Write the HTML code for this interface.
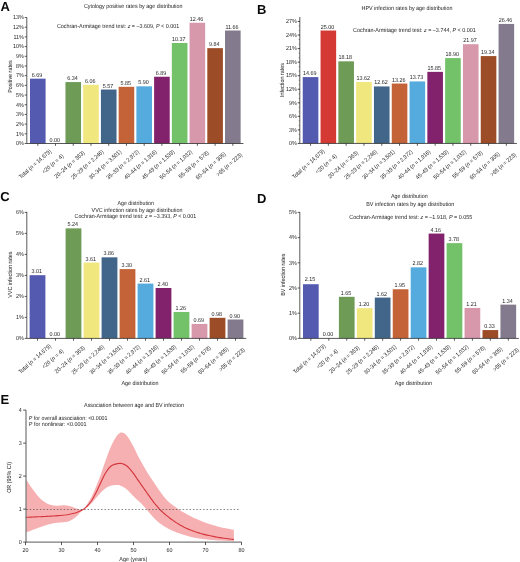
<!DOCTYPE html>
<html lang="en"><head><meta charset="utf-8"><title>Figure</title>
<style>
html,body{margin:0;padding:0;background:#fff}
svg{display:block}
text{text-rendering:geometricPrecision;font-family:"Liberation Sans",sans-serif;font-size:5.9px;fill:#1c1c1c}
.i{font-style:italic}
.pl{font-size:13px;font-weight:bold;fill:#0a0a0a}
.ax{stroke:#2e2e2e;stroke-width:0.8;fill:none}
</style></head><body>
<svg width="520" height="562" viewBox="0 0 520 562">
<rect width="520" height="562" fill="#fff"/>
<text x="0.6" y="11.4" class="pl">A</text>
<rect x="30.00" y="78.67" width="15.6" height="64.83" fill="#545ab0"/>
<text transform="translate(37.00 76.67) scale(0.915 1)" text-anchor="middle">6.69</text>
<text transform="translate(54.73 142.30) scale(0.915 1)" text-anchor="middle">0.00</text>
<rect x="65.46" y="82.07" width="15.6" height="61.43" fill="#6e9c57"/>
<text transform="translate(72.46 80.07) scale(0.915 1)" text-anchor="middle">6.34</text>
<rect x="83.19" y="84.78" width="15.6" height="58.72" fill="#f0e77e"/>
<text transform="translate(90.19 82.78) scale(0.915 1)" text-anchor="middle">6.06</text>
<rect x="100.92" y="89.53" width="15.6" height="53.97" fill="#41668a"/>
<text transform="translate(107.92 87.53) scale(0.915 1)" text-anchor="middle">5.57</text>
<rect x="118.65" y="86.81" width="15.6" height="56.69" fill="#c36337"/>
<text transform="translate(125.65 84.81) scale(0.915 1)" text-anchor="middle">5.85</text>
<rect x="136.38" y="86.33" width="15.6" height="57.17" fill="#55abdd"/>
<text transform="translate(143.38 84.33) scale(0.915 1)" text-anchor="middle">5.90</text>
<rect x="154.11" y="76.74" width="15.6" height="66.76" fill="#82226c"/>
<text transform="translate(161.11 74.74) scale(0.915 1)" text-anchor="middle">6.89</text>
<rect x="171.84" y="43.01" width="15.6" height="100.49" fill="#73c169"/>
<text transform="translate(178.84 41.01) scale(0.915 1)" text-anchor="middle">10.37</text>
<rect x="189.57" y="22.76" width="15.6" height="120.74" fill="#d898ab"/>
<text transform="translate(196.57 20.76) scale(0.915 1)" text-anchor="middle">12.46</text>
<rect x="207.30" y="48.15" width="15.6" height="95.35" fill="#9c4c26"/>
<text transform="translate(214.30 46.15) scale(0.915 1)" text-anchor="middle">9.84</text>
<rect x="225.03" y="30.51" width="15.6" height="112.99" fill="#837b8d"/>
<text transform="translate(232.03 28.51) scale(0.915 1)" text-anchor="middle">11.66</text>
<path d="M26.8 17.4V143.5H243.43" class="ax"/>
<path d="M24.70 143.50H26.8" class="ax"/>
<text transform="translate(23.90 145.30) scale(0.915 1)" text-anchor="end">0%</text>
<path d="M24.70 133.81H26.8" class="ax"/>
<text transform="translate(23.90 135.61) scale(0.915 1)" text-anchor="end">1%</text>
<path d="M24.70 124.12H26.8" class="ax"/>
<text transform="translate(23.90 125.92) scale(0.915 1)" text-anchor="end">2%</text>
<path d="M24.70 114.43H26.8" class="ax"/>
<text transform="translate(23.90 116.23) scale(0.915 1)" text-anchor="end">3%</text>
<path d="M24.70 104.74H26.8" class="ax"/>
<text transform="translate(23.90 106.54) scale(0.915 1)" text-anchor="end">4%</text>
<path d="M24.70 95.05H26.8" class="ax"/>
<text transform="translate(23.90 96.85) scale(0.915 1)" text-anchor="end">5%</text>
<path d="M24.70 85.36H26.8" class="ax"/>
<text transform="translate(23.90 87.16) scale(0.915 1)" text-anchor="end">6%</text>
<path d="M24.70 75.67H26.8" class="ax"/>
<text transform="translate(23.90 77.47) scale(0.915 1)" text-anchor="end">7%</text>
<path d="M24.70 65.98H26.8" class="ax"/>
<text transform="translate(23.90 67.78) scale(0.915 1)" text-anchor="end">8%</text>
<path d="M24.70 56.29H26.8" class="ax"/>
<text transform="translate(23.90 58.09) scale(0.915 1)" text-anchor="end">9%</text>
<path d="M24.70 46.60H26.8" class="ax"/>
<text transform="translate(23.90 48.40) scale(0.915 1)" text-anchor="end">10%</text>
<path d="M24.70 36.91H26.8" class="ax"/>
<text transform="translate(23.90 38.71) scale(0.915 1)" text-anchor="end">11%</text>
<path d="M24.70 27.22H26.8" class="ax"/>
<text transform="translate(23.90 29.02) scale(0.915 1)" text-anchor="end">12%</text>
<path d="M24.70 17.53H26.8" class="ax"/>
<text transform="translate(23.90 19.33) scale(0.915 1)" text-anchor="end">13%</text>
<path d="M37.80 143.5v2.3" class="ax"/>
<text transform="translate(35.00 163.80) rotate(-41.5) scale(0.8921 1)" text-anchor="middle" y="2.1">Total (<tspan class="i">n</tspan> = 14,679)</text>
<path d="M55.53 143.5v2.3" class="ax"/>
<text transform="translate(52.73 163.80) rotate(-41.5) scale(0.9150 1)" text-anchor="middle" y="2.1">&lt;20 (<tspan class="i">n</tspan> = 4)</text>
<path d="M73.26 143.5v2.3" class="ax"/>
<text transform="translate(69.46 164.50) rotate(-41.5) scale(0.9150 1)" text-anchor="middle" y="2.1">20–24 (<tspan class="i">n</tspan> = 363)</text>
<path d="M90.99 143.5v2.3" class="ax"/>
<text transform="translate(87.19 164.50) rotate(-41.5) scale(0.8830 1)" text-anchor="middle" y="2.1">25–29 (<tspan class="i">n</tspan> = 2,246)</text>
<path d="M108.72 143.5v2.3" class="ax"/>
<text transform="translate(104.92 164.50) rotate(-41.5) scale(0.8830 1)" text-anchor="middle" y="2.1">30–34 (<tspan class="i">n</tspan> = 3,501)</text>
<path d="M126.45 143.5v2.3" class="ax"/>
<text transform="translate(122.65 164.50) rotate(-41.5) scale(0.8830 1)" text-anchor="middle" y="2.1">35–39 (<tspan class="i">n</tspan> = 2,972)</text>
<path d="M144.18 143.5v2.3" class="ax"/>
<text transform="translate(140.38 164.50) rotate(-41.5) scale(0.8830 1)" text-anchor="middle" y="2.1">40–44 (<tspan class="i">n</tspan> = 1,916)</text>
<path d="M161.91 143.5v2.3" class="ax"/>
<text transform="translate(158.11 164.50) rotate(-41.5) scale(0.8830 1)" text-anchor="middle" y="2.1">45–49 (<tspan class="i">n</tspan> = 1,539)</text>
<path d="M179.64 143.5v2.3" class="ax"/>
<text transform="translate(175.84 164.50) rotate(-41.5) scale(0.8830 1)" text-anchor="middle" y="2.1">50–54 (<tspan class="i">n</tspan> = 1,032)</text>
<path d="M197.37 143.5v2.3" class="ax"/>
<text transform="translate(193.57 164.50) rotate(-41.5) scale(0.9150 1)" text-anchor="middle" y="2.1">55–59 (<tspan class="i">n</tspan> = 578)</text>
<path d="M215.10 143.5v2.3" class="ax"/>
<text transform="translate(210.70 165.70) rotate(-41.5) scale(0.9150 1)" text-anchor="middle" y="2.1">60–64 (<tspan class="i">n</tspan> = 305)</text>
<path d="M232.83 143.5v2.3" class="ax"/>
<text transform="translate(229.03 164.50) rotate(-41.5) scale(0.9150 1)" text-anchor="middle" y="2.1">&gt;65 (<tspan class="i">n</tspan> = 223)</text>
<text transform="translate(10.0 76.6) rotate(-90) scale(0.915 1)" text-anchor="middle" y="2.1">Positive rates</text>
<text transform="translate(133.20 7.50) scale(0.915 1)" text-anchor="middle" textLength="107.65" lengthAdjust="spacingAndGlyphs">Cytology positive rates by age distribution</text>
<text transform="translate(118.10 28.40) scale(0.915 1)" text-anchor="middle" textLength="133.66" lengthAdjust="spacingAndGlyphs">Cochran-Armitage trend test: <tspan class="i">z</tspan> = –3.609, <tspan class="i">P</tspan> &lt; 0.001</text>
<text x="256.9" y="13.85" class="pl">B</text>
<rect x="302.75" y="77.10" width="15.6" height="66.35" fill="#545ab0"/>
<text transform="translate(309.75 75.10) scale(0.915 1)" text-anchor="middle">14.69</text>
<rect x="320.55" y="30.52" width="15.6" height="112.93" fill="#d43a33"/>
<text transform="translate(327.55 28.52) scale(0.915 1)" text-anchor="middle">25.00</text>
<rect x="338.35" y="61.33" width="15.6" height="82.12" fill="#6e9c57"/>
<text transform="translate(345.35 59.33) scale(0.915 1)" text-anchor="middle">18.18</text>
<rect x="356.15" y="81.93" width="15.6" height="61.52" fill="#f0e77e"/>
<text transform="translate(363.15 79.93) scale(0.915 1)" text-anchor="middle">13.62</text>
<rect x="373.95" y="86.45" width="15.6" height="57.00" fill="#41668a"/>
<text transform="translate(380.95 84.45) scale(0.915 1)" text-anchor="middle">12.62</text>
<rect x="391.75" y="83.55" width="15.6" height="59.90" fill="#c36337"/>
<text transform="translate(398.75 81.55) scale(0.915 1)" text-anchor="middle">13.26</text>
<rect x="409.55" y="81.43" width="15.6" height="62.02" fill="#55abdd"/>
<text transform="translate(416.55 79.43) scale(0.915 1)" text-anchor="middle">13.73</text>
<rect x="427.35" y="71.86" width="15.6" height="71.59" fill="#82226c"/>
<text transform="translate(434.35 69.86) scale(0.915 1)" text-anchor="middle">15.85</text>
<rect x="445.15" y="58.08" width="15.6" height="85.37" fill="#73c169"/>
<text transform="translate(452.15 56.08) scale(0.915 1)" text-anchor="middle">18.90</text>
<rect x="462.95" y="44.21" width="15.6" height="99.24" fill="#d898ab"/>
<text transform="translate(469.95 42.21) scale(0.915 1)" text-anchor="middle">21.97</text>
<rect x="480.75" y="56.09" width="15.6" height="87.36" fill="#9c4c26"/>
<text transform="translate(487.75 54.09) scale(0.915 1)" text-anchor="middle">19.34</text>
<rect x="498.55" y="23.93" width="15.6" height="119.52" fill="#837b8d"/>
<text transform="translate(505.55 21.93) scale(0.915 1)" text-anchor="middle">26.46</text>
<path d="M299.8 17.0V143.45H516.95" class="ax"/>
<path d="M297.70 143.45H299.8" class="ax"/>
<text transform="translate(296.90 145.25) scale(0.915 1)" text-anchor="end">0%</text>
<path d="M297.70 129.90H299.8" class="ax"/>
<text transform="translate(296.90 131.70) scale(0.915 1)" text-anchor="end">3%</text>
<path d="M297.70 116.35H299.8" class="ax"/>
<text transform="translate(296.90 118.15) scale(0.915 1)" text-anchor="end">6%</text>
<path d="M297.70 102.80H299.8" class="ax"/>
<text transform="translate(296.90 104.60) scale(0.915 1)" text-anchor="end">9%</text>
<path d="M297.70 89.25H299.8" class="ax"/>
<text transform="translate(296.90 91.05) scale(0.915 1)" text-anchor="end">12%</text>
<path d="M297.70 75.69H299.8" class="ax"/>
<text transform="translate(296.90 77.49) scale(0.915 1)" text-anchor="end">15%</text>
<path d="M297.70 62.14H299.8" class="ax"/>
<text transform="translate(296.90 63.94) scale(0.915 1)" text-anchor="end">18%</text>
<path d="M297.70 48.59H299.8" class="ax"/>
<text transform="translate(296.90 50.39) scale(0.915 1)" text-anchor="end">21%</text>
<path d="M297.70 35.04H299.8" class="ax"/>
<text transform="translate(296.90 36.84) scale(0.915 1)" text-anchor="end">24%</text>
<path d="M297.70 21.49H299.8" class="ax"/>
<text transform="translate(296.90 23.29) scale(0.915 1)" text-anchor="end">27%</text>
<path d="M298.70 143.45H299.8" class="ax" style="stroke-width:0.5"/>
<path d="M298.70 138.93H299.8" class="ax" style="stroke-width:0.5"/>
<path d="M298.70 134.42H299.8" class="ax" style="stroke-width:0.5"/>
<path d="M298.70 129.90H299.8" class="ax" style="stroke-width:0.5"/>
<path d="M298.70 125.38H299.8" class="ax" style="stroke-width:0.5"/>
<path d="M298.70 120.86H299.8" class="ax" style="stroke-width:0.5"/>
<path d="M298.70 116.35H299.8" class="ax" style="stroke-width:0.5"/>
<path d="M298.70 111.83H299.8" class="ax" style="stroke-width:0.5"/>
<path d="M298.70 107.31H299.8" class="ax" style="stroke-width:0.5"/>
<path d="M298.70 102.80H299.8" class="ax" style="stroke-width:0.5"/>
<path d="M298.70 98.28H299.8" class="ax" style="stroke-width:0.5"/>
<path d="M298.70 93.76H299.8" class="ax" style="stroke-width:0.5"/>
<path d="M298.70 89.25H299.8" class="ax" style="stroke-width:0.5"/>
<path d="M298.70 84.73H299.8" class="ax" style="stroke-width:0.5"/>
<path d="M298.70 80.21H299.8" class="ax" style="stroke-width:0.5"/>
<path d="M298.70 75.69H299.8" class="ax" style="stroke-width:0.5"/>
<path d="M298.70 71.18H299.8" class="ax" style="stroke-width:0.5"/>
<path d="M298.70 66.66H299.8" class="ax" style="stroke-width:0.5"/>
<path d="M298.70 62.14H299.8" class="ax" style="stroke-width:0.5"/>
<path d="M298.70 57.63H299.8" class="ax" style="stroke-width:0.5"/>
<path d="M298.70 53.11H299.8" class="ax" style="stroke-width:0.5"/>
<path d="M298.70 48.59H299.8" class="ax" style="stroke-width:0.5"/>
<path d="M298.70 44.08H299.8" class="ax" style="stroke-width:0.5"/>
<path d="M298.70 39.56H299.8" class="ax" style="stroke-width:0.5"/>
<path d="M298.70 35.04H299.8" class="ax" style="stroke-width:0.5"/>
<path d="M298.70 30.52H299.8" class="ax" style="stroke-width:0.5"/>
<path d="M298.70 26.01H299.8" class="ax" style="stroke-width:0.5"/>
<path d="M298.70 21.49H299.8" class="ax" style="stroke-width:0.5"/>
<path d="M310.55 143.45v2.3" class="ax"/>
<text transform="translate(308.25 163.75) rotate(-41.5) scale(0.8921 1)" text-anchor="middle" y="2.1">Total (<tspan class="i">n</tspan> = 14,679)</text>
<path d="M328.35 143.45v2.3" class="ax"/>
<text transform="translate(326.05 163.75) rotate(-41.5) scale(0.9150 1)" text-anchor="middle" y="2.1">&lt;20 (<tspan class="i">n</tspan> = 4)</text>
<path d="M346.15 143.45v2.3" class="ax"/>
<text transform="translate(342.85 164.45) rotate(-41.5) scale(0.9150 1)" text-anchor="middle" y="2.1">20–24 (<tspan class="i">n</tspan> = 363)</text>
<path d="M363.95 143.45v2.3" class="ax"/>
<text transform="translate(360.65 164.45) rotate(-41.5) scale(0.8830 1)" text-anchor="middle" y="2.1">25–29 (<tspan class="i">n</tspan> = 2,246)</text>
<path d="M381.75 143.45v2.3" class="ax"/>
<text transform="translate(378.45 164.45) rotate(-41.5) scale(0.8830 1)" text-anchor="middle" y="2.1">30–34 (<tspan class="i">n</tspan> = 3,501)</text>
<path d="M399.55 143.45v2.3" class="ax"/>
<text transform="translate(396.25 164.45) rotate(-41.5) scale(0.8830 1)" text-anchor="middle" y="2.1">35–39 (<tspan class="i">n</tspan> = 2,972)</text>
<path d="M417.35 143.45v2.3" class="ax"/>
<text transform="translate(414.05 164.45) rotate(-41.5) scale(0.8830 1)" text-anchor="middle" y="2.1">40–44 (<tspan class="i">n</tspan> = 1,916)</text>
<path d="M435.15 143.45v2.3" class="ax"/>
<text transform="translate(431.85 164.45) rotate(-41.5) scale(0.8830 1)" text-anchor="middle" y="2.1">45–49 (<tspan class="i">n</tspan> = 1,539)</text>
<path d="M452.95 143.45v2.3" class="ax"/>
<text transform="translate(449.65 164.45) rotate(-41.5) scale(0.8830 1)" text-anchor="middle" y="2.1">50–54 (<tspan class="i">n</tspan> = 1,032)</text>
<path d="M470.75 143.45v2.3" class="ax"/>
<text transform="translate(467.45 164.45) rotate(-41.5) scale(0.9150 1)" text-anchor="middle" y="2.1">55–59 (<tspan class="i">n</tspan> = 578)</text>
<path d="M488.55 143.45v2.3" class="ax"/>
<text transform="translate(484.65 165.65) rotate(-41.5) scale(0.9150 1)" text-anchor="middle" y="2.1">60–64 (<tspan class="i">n</tspan> = 305)</text>
<path d="M506.35 143.45v2.3" class="ax"/>
<text transform="translate(503.05 164.45) rotate(-41.5) scale(0.9150 1)" text-anchor="middle" y="2.1">&gt;65 (<tspan class="i">n</tspan> = 223)</text>
<text transform="translate(281.7 80) rotate(-90) scale(0.915 1)" text-anchor="middle" y="2.1">Infection rates</text>
<text transform="translate(407.00 9.90) scale(0.915 1)" text-anchor="middle" textLength="99.45" lengthAdjust="spacingAndGlyphs">HPV infection rates by age distribution</text>
<text transform="translate(414.40 32.10) scale(0.915 1)" text-anchor="middle" textLength="134.10" lengthAdjust="spacingAndGlyphs">Cochran-Armitage trend test: <tspan class="i">z</tspan> = –3.744, <tspan class="i">P</tspan> &lt; 0.001</text>
<text x="0.3" y="200.7" class="pl">C</text>
<rect x="29.60" y="275.19" width="15.8" height="63.21" fill="#545ab0"/>
<text transform="translate(36.70 273.19) scale(0.915 1)" text-anchor="middle">3.01</text>
<text transform="translate(54.70 336.40) scale(0.915 1)" text-anchor="middle">0.00</text>
<rect x="65.60" y="228.36" width="15.8" height="110.04" fill="#6e9c57"/>
<text transform="translate(72.70 226.36) scale(0.915 1)" text-anchor="middle">5.24</text>
<rect x="83.60" y="262.59" width="15.8" height="75.81" fill="#f0e77e"/>
<text transform="translate(90.70 260.59) scale(0.915 1)" text-anchor="middle">3.61</text>
<rect x="101.60" y="257.34" width="15.8" height="81.06" fill="#41668a"/>
<text transform="translate(108.70 255.34) scale(0.915 1)" text-anchor="middle">3.86</text>
<rect x="119.60" y="269.10" width="15.8" height="69.30" fill="#c36337"/>
<text transform="translate(126.70 267.10) scale(0.915 1)" text-anchor="middle">3.30</text>
<rect x="137.60" y="283.59" width="15.8" height="54.81" fill="#55abdd"/>
<text transform="translate(144.70 281.59) scale(0.915 1)" text-anchor="middle">2.61</text>
<rect x="155.60" y="288.00" width="15.8" height="50.40" fill="#82226c"/>
<text transform="translate(162.70 286.00) scale(0.915 1)" text-anchor="middle">2.40</text>
<rect x="173.60" y="311.94" width="15.8" height="26.46" fill="#73c169"/>
<text transform="translate(180.70 309.94) scale(0.915 1)" text-anchor="middle">1.26</text>
<rect x="191.60" y="323.91" width="15.8" height="14.49" fill="#d898ab"/>
<text transform="translate(198.70 321.91) scale(0.915 1)" text-anchor="middle">0.69</text>
<rect x="209.60" y="317.82" width="15.8" height="20.58" fill="#9c4c26"/>
<text transform="translate(216.70 315.82) scale(0.915 1)" text-anchor="middle">0.98</text>
<rect x="227.60" y="319.50" width="15.8" height="18.90" fill="#837b8d"/>
<text transform="translate(234.70 317.50) scale(0.915 1)" text-anchor="middle">0.90</text>
<path d="M26.8 211.8V338.4H246.20" class="ax"/>
<path d="M24.70 338.40H26.8" class="ax"/>
<text transform="translate(23.90 340.20) scale(0.915 1)" text-anchor="end">0%</text>
<path d="M24.70 317.40H26.8" class="ax"/>
<text transform="translate(23.90 319.20) scale(0.915 1)" text-anchor="end">1%</text>
<path d="M24.70 296.40H26.8" class="ax"/>
<text transform="translate(23.90 298.20) scale(0.915 1)" text-anchor="end">2%</text>
<path d="M24.70 275.40H26.8" class="ax"/>
<text transform="translate(23.90 277.20) scale(0.915 1)" text-anchor="end">3%</text>
<path d="M24.70 254.40H26.8" class="ax"/>
<text transform="translate(23.90 256.20) scale(0.915 1)" text-anchor="end">4%</text>
<path d="M24.70 233.40H26.8" class="ax"/>
<text transform="translate(23.90 235.20) scale(0.915 1)" text-anchor="end">5%</text>
<path d="M24.70 212.40H26.8" class="ax"/>
<text transform="translate(23.90 214.20) scale(0.915 1)" text-anchor="end">6%</text>
<path d="M37.50 338.4v2.3" class="ax"/>
<text transform="translate(34.70 358.70) rotate(-41.5) scale(0.8921 1)" text-anchor="middle" y="2.1">Total (<tspan class="i">n</tspan> = 14,679)</text>
<path d="M55.50 338.4v2.3" class="ax"/>
<text transform="translate(52.70 358.70) rotate(-41.5) scale(0.9150 1)" text-anchor="middle" y="2.1">&lt;20 (<tspan class="i">n</tspan> = 4)</text>
<path d="M73.50 338.4v2.3" class="ax"/>
<text transform="translate(69.70 359.40) rotate(-41.5) scale(0.9150 1)" text-anchor="middle" y="2.1">20–24 (<tspan class="i">n</tspan> = 363)</text>
<path d="M91.50 338.4v2.3" class="ax"/>
<text transform="translate(87.70 359.40) rotate(-41.5) scale(0.8830 1)" text-anchor="middle" y="2.1">25–29 (<tspan class="i">n</tspan> = 2,246)</text>
<path d="M109.50 338.4v2.3" class="ax"/>
<text transform="translate(105.70 359.40) rotate(-41.5) scale(0.8830 1)" text-anchor="middle" y="2.1">30–34 (<tspan class="i">n</tspan> = 3,501)</text>
<path d="M127.50 338.4v2.3" class="ax"/>
<text transform="translate(123.70 359.40) rotate(-41.5) scale(0.8830 1)" text-anchor="middle" y="2.1">35–39 (<tspan class="i">n</tspan> = 2,972)</text>
<path d="M145.50 338.4v2.3" class="ax"/>
<text transform="translate(141.70 359.40) rotate(-41.5) scale(0.8830 1)" text-anchor="middle" y="2.1">40–44 (<tspan class="i">n</tspan> = 1,916)</text>
<path d="M163.50 338.4v2.3" class="ax"/>
<text transform="translate(159.70 359.40) rotate(-41.5) scale(0.8830 1)" text-anchor="middle" y="2.1">45–49 (<tspan class="i">n</tspan> = 1,539)</text>
<path d="M181.50 338.4v2.3" class="ax"/>
<text transform="translate(177.70 359.40) rotate(-41.5) scale(0.8830 1)" text-anchor="middle" y="2.1">50–54 (<tspan class="i">n</tspan> = 1,032)</text>
<path d="M199.50 338.4v2.3" class="ax"/>
<text transform="translate(195.70 359.40) rotate(-41.5) scale(0.9150 1)" text-anchor="middle" y="2.1">55–59 (<tspan class="i">n</tspan> = 578)</text>
<path d="M217.50 338.4v2.3" class="ax"/>
<text transform="translate(213.10 360.60) rotate(-41.5) scale(0.9150 1)" text-anchor="middle" y="2.1">60–64 (<tspan class="i">n</tspan> = 305)</text>
<path d="M235.50 338.4v2.3" class="ax"/>
<text transform="translate(231.70 359.40) rotate(-41.5) scale(0.9150 1)" text-anchor="middle" y="2.1">&gt;65 (<tspan class="i">n</tspan> = 223)</text>
<text transform="translate(9.9 274.7) rotate(-90) scale(0.915 1)" text-anchor="middle" y="2.1">VVC infection rates</text>
<text transform="translate(135.70 204.60) scale(0.915 1)" text-anchor="middle" textLength="39.89" lengthAdjust="spacingAndGlyphs">Age distribution</text>
<text transform="translate(137.00 211.90) scale(0.915 1)" text-anchor="middle" textLength="99.23" lengthAdjust="spacingAndGlyphs">VVC infection rates by age distribution</text>
<text transform="translate(135.40 218.10) scale(0.915 1)" text-anchor="middle" textLength="133.11" lengthAdjust="spacingAndGlyphs">Cochran-Armitage trend test: <tspan class="i">z</tspan> = –3.393, <tspan class="i">P</tspan> &lt; 0.001</text>
<text transform="translate(140.00 385.30) scale(0.915 1)" text-anchor="middle">Age distribution</text>
<text x="256.9" y="203.4" class="pl">D</text>
<rect x="303.00" y="284.22" width="15.7" height="54.18" fill="#545ab0"/>
<text transform="translate(310.05 280.72) scale(0.915 1)" text-anchor="middle">2.15</text>
<text transform="translate(328.00 336.40) scale(0.915 1)" text-anchor="middle">0.00</text>
<rect x="338.90" y="296.82" width="15.7" height="41.58" fill="#6e9c57"/>
<text transform="translate(345.95 294.82) scale(0.915 1)" text-anchor="middle">1.65</text>
<rect x="356.85" y="308.16" width="15.7" height="30.24" fill="#f0e77e"/>
<text transform="translate(363.90 306.16) scale(0.915 1)" text-anchor="middle">1.20</text>
<rect x="374.80" y="297.58" width="15.7" height="40.82" fill="#41668a"/>
<text transform="translate(381.85 295.58) scale(0.915 1)" text-anchor="middle">1.62</text>
<rect x="392.75" y="289.26" width="15.7" height="49.14" fill="#c36337"/>
<text transform="translate(399.80 287.26) scale(0.915 1)" text-anchor="middle">1.95</text>
<rect x="410.70" y="267.34" width="15.7" height="71.06" fill="#55abdd"/>
<text transform="translate(417.75 265.34) scale(0.915 1)" text-anchor="middle">2.82</text>
<rect x="428.65" y="233.57" width="15.7" height="104.83" fill="#82226c"/>
<text transform="translate(435.70 231.57) scale(0.915 1)" text-anchor="middle">4.16</text>
<rect x="446.60" y="243.14" width="15.7" height="95.26" fill="#73c169"/>
<text transform="translate(453.65 241.14) scale(0.915 1)" text-anchor="middle">3.78</text>
<rect x="464.55" y="307.91" width="15.7" height="30.49" fill="#d898ab"/>
<text transform="translate(471.60 305.91) scale(0.915 1)" text-anchor="middle">1.21</text>
<rect x="482.50" y="330.08" width="15.7" height="8.32" fill="#9c4c26"/>
<text transform="translate(489.55 328.08) scale(0.915 1)" text-anchor="middle">0.33</text>
<rect x="500.45" y="304.63" width="15.7" height="33.77" fill="#837b8d"/>
<text transform="translate(507.50 302.63) scale(0.915 1)" text-anchor="middle">1.34</text>
<path d="M299.8 212.0V338.4H518.95" class="ax"/>
<path d="M297.70 338.40H299.8" class="ax"/>
<text transform="translate(296.90 340.20) scale(0.915 1)" text-anchor="end">0%</text>
<path d="M297.70 313.20H299.8" class="ax"/>
<text transform="translate(296.90 315.00) scale(0.915 1)" text-anchor="end">1%</text>
<path d="M297.70 288.00H299.8" class="ax"/>
<text transform="translate(296.90 289.80) scale(0.915 1)" text-anchor="end">2%</text>
<path d="M297.70 262.80H299.8" class="ax"/>
<text transform="translate(296.90 264.60) scale(0.915 1)" text-anchor="end">3%</text>
<path d="M297.70 237.60H299.8" class="ax"/>
<text transform="translate(296.90 239.40) scale(0.915 1)" text-anchor="end">4%</text>
<path d="M297.70 212.40H299.8" class="ax"/>
<text transform="translate(296.90 214.20) scale(0.915 1)" text-anchor="end">5%</text>
<path d="M310.85 338.4v2.3" class="ax"/>
<text transform="translate(309.25 358.70) rotate(-41.5) scale(0.8921 1)" text-anchor="middle" y="2.1">Total (<tspan class="i">n</tspan> = 14,679)</text>
<path d="M328.80 338.4v2.3" class="ax"/>
<text transform="translate(327.20 358.70) rotate(-41.5) scale(0.9150 1)" text-anchor="middle" y="2.1">&lt;20 (<tspan class="i">n</tspan> = 4)</text>
<path d="M346.75 338.4v2.3" class="ax"/>
<text transform="translate(344.15 359.40) rotate(-41.5) scale(0.9150 1)" text-anchor="middle" y="2.1">20–24 (<tspan class="i">n</tspan> = 363)</text>
<path d="M364.70 338.4v2.3" class="ax"/>
<text transform="translate(362.10 359.40) rotate(-41.5) scale(0.8830 1)" text-anchor="middle" y="2.1">25–29 (<tspan class="i">n</tspan> = 2,246)</text>
<path d="M382.65 338.4v2.3" class="ax"/>
<text transform="translate(380.05 359.40) rotate(-41.5) scale(0.8830 1)" text-anchor="middle" y="2.1">30–34 (<tspan class="i">n</tspan> = 3,501)</text>
<path d="M400.60 338.4v2.3" class="ax"/>
<text transform="translate(398.00 359.40) rotate(-41.5) scale(0.8830 1)" text-anchor="middle" y="2.1">35–39 (<tspan class="i">n</tspan> = 2,972)</text>
<path d="M418.55 338.4v2.3" class="ax"/>
<text transform="translate(415.95 359.40) rotate(-41.5) scale(0.8830 1)" text-anchor="middle" y="2.1">40–44 (<tspan class="i">n</tspan> = 1,916)</text>
<path d="M436.50 338.4v2.3" class="ax"/>
<text transform="translate(433.90 359.40) rotate(-41.5) scale(0.8830 1)" text-anchor="middle" y="2.1">45–49 (<tspan class="i">n</tspan> = 1,539)</text>
<path d="M454.45 338.4v2.3" class="ax"/>
<text transform="translate(451.85 359.40) rotate(-41.5) scale(0.8830 1)" text-anchor="middle" y="2.1">50–54 (<tspan class="i">n</tspan> = 1,032)</text>
<path d="M472.40 338.4v2.3" class="ax"/>
<text transform="translate(469.80 359.40) rotate(-41.5) scale(0.9150 1)" text-anchor="middle" y="2.1">55–59 (<tspan class="i">n</tspan> = 578)</text>
<path d="M490.35 338.4v2.3" class="ax"/>
<text transform="translate(487.15 360.60) rotate(-41.5) scale(0.9150 1)" text-anchor="middle" y="2.1">60–64 (<tspan class="i">n</tspan> = 305)</text>
<path d="M508.30 338.4v2.3" class="ax"/>
<text transform="translate(505.70 359.40) rotate(-41.5) scale(0.9150 1)" text-anchor="middle" y="2.1">&gt;65 (<tspan class="i">n</tspan> = 223)</text>
<text transform="translate(282.4 274.7) rotate(-90) scale(0.915 1)" text-anchor="middle" y="2.1">BV infection rates</text>
<text transform="translate(409.30 198.10) scale(0.915 1)" text-anchor="middle" textLength="40.22" lengthAdjust="spacingAndGlyphs">Age distribution</text>
<text transform="translate(410.20 205.80) scale(0.915 1)" text-anchor="middle" textLength="96.17" lengthAdjust="spacingAndGlyphs">BV infection rates by age distribution</text>
<text transform="translate(410.80 218.70) scale(0.915 1)" text-anchor="middle" textLength="134.54" lengthAdjust="spacingAndGlyphs">Cochran-Armitage trend test: <tspan class="i">z</tspan> = –1.918, <tspan class="i">P</tspan> = 0.055</text>
<text transform="translate(413.40 384.60) scale(0.915 1)" text-anchor="middle">Age distribution</text>
<text x="0.45" y="404" class="pl">E</text>
<polygon points="26.40,479.80 27.37,481.31 28.75,483.46 30.10,485.50 31.26,487.15 32.39,488.69 33.50,490.20 34.60,491.74 35.70,493.27 36.80,494.70 37.93,496.02 39.06,497.26 40.20,498.40 41.34,499.46 42.47,500.42 43.60,501.30 44.70,502.09 45.80,502.78 46.90,503.40 48.03,503.94 49.17,504.41 50.30,504.80 51.40,505.10 52.50,505.33 53.60,505.50 54.73,505.62 55.86,505.68 57.00,505.70 58.14,505.66 59.27,505.58 60.40,505.50 61.50,505.41 62.60,505.33 63.70,505.30 64.83,505.35 65.96,505.45 67.10,505.60 68.24,505.79 69.37,506.01 70.50,506.30 71.60,506.66 72.70,507.08 73.80,507.50 74.93,507.91 76.06,508.32 77.20,508.70 78.37,509.06 79.54,509.38 80.60,509.60 81.47,509.76 82.23,509.83 83.00,509.60 83.83,508.99 84.66,508.08 85.50,507.00 86.28,505.81 87.06,504.45 88.00,502.80 89.22,500.82 90.61,498.55 92.00,496.00 93.33,493.11 94.67,489.94 96.00,486.70 97.36,483.42 98.71,480.06 100.00,476.70 101.18,473.34 102.30,469.98 103.40,466.70 104.51,463.53 105.60,460.43 106.70,457.40 107.80,454.40 108.89,451.47 110.00,448.70 111.12,446.14 112.25,443.76 113.40,441.50 114.61,439.29 115.84,437.20 117.00,435.50 118.10,434.30 119.13,433.48 120.00,432.90 120.59,432.57 121.02,432.49 121.50,432.50 122.15,432.56 122.85,432.70 123.50,432.90 123.98,433.07 124.41,433.30 125.00,433.80 125.88,434.67 126.92,435.82 128.00,437.20 129.09,438.85 130.22,440.73 131.35,442.70 132.47,444.71 133.59,446.82 134.70,449.00 135.80,451.32 136.90,453.71 138.00,456.00 139.10,458.07 140.19,460.04 141.30,462.00 142.43,464.02 143.57,466.04 144.70,468.00 145.80,469.88 146.90,471.71 148.00,473.50 149.13,475.27 150.27,477.00 151.40,478.70 152.51,480.35 153.60,481.97 154.70,483.60 155.79,485.27 156.89,486.94 158.00,488.60 159.15,490.22 160.33,491.82 161.50,493.40 162.61,494.93 163.72,496.44 165.00,498.00 166.56,499.68 168.28,501.41 170.00,503.00 171.67,504.37 173.33,505.61 175.00,506.80 176.63,507.96 178.26,509.07 180.00,510.20 181.91,511.39 183.93,512.61 186.00,513.80 188.14,514.97 190.33,516.12 192.50,517.20 194.60,518.19 196.68,519.11 198.75,520.00 200.83,520.87 202.92,521.71 205.00,522.50 207.08,523.24 209.17,523.94 211.25,524.60 213.33,525.23 215.42,525.83 217.50,526.40 219.58,526.93 221.67,527.43 223.75,527.90 225.92,528.34 228.09,528.75 230.00,529.10 231.62,529.40 232.98,529.64 233.90,529.80 233.90,541.20 232.98,541.15 231.62,541.08 230.00,541.00 228.09,540.91 225.92,540.80 223.75,540.70 221.67,540.61 219.58,540.51 217.50,540.40 215.42,540.26 213.33,540.09 211.25,539.90 209.17,539.69 207.08,539.45 205.00,539.20 202.92,538.96 200.83,538.70 198.75,538.40 196.67,538.04 194.58,537.64 192.50,537.20 190.42,536.71 188.33,536.18 186.25,535.60 184.12,534.96 181.99,534.27 180.00,533.60 178.24,533.00 176.62,532.42 175.00,531.80 173.33,531.12 171.67,530.39 170.00,529.60 168.33,528.73 166.67,527.80 165.00,526.80 163.30,525.71 161.59,524.56 160.00,523.40 158.59,522.30 157.30,521.19 156.00,520.00 154.67,518.67 153.33,517.26 152.00,515.80 150.64,514.27 149.28,512.70 148.00,511.20 146.85,509.81 145.78,508.48 144.70,507.20 143.57,505.95 142.43,504.74 141.30,503.60 140.19,502.56 139.10,501.59 138.00,500.60 136.90,499.56 135.80,498.49 134.70,497.40 133.59,496.28 132.47,495.14 131.35,494.00 130.23,492.84 129.11,491.69 128.00,490.60 126.95,489.61 125.90,488.68 124.70,487.80 123.14,486.90 121.42,486.04 120.00,485.40 119.13,485.07 118.57,484.95 118.00,484.90 117.41,484.88 116.81,484.92 116.00,485.00 114.81,485.07 113.41,485.18 112.00,485.40 110.67,485.74 109.33,486.20 108.00,486.80 106.67,487.56 105.33,488.46 104.00,489.50 102.67,490.71 101.33,492.07 100.00,493.50 98.67,494.99 97.33,496.54 96.00,498.10 94.67,499.66 93.33,501.23 92.00,502.70 90.61,504.10 89.22,505.42 88.00,506.50 87.06,507.23 86.28,507.73 85.50,508.20 84.66,508.64 83.83,509.06 83.00,509.60 82.23,510.34 81.47,511.21 80.60,512.20 79.54,513.36 78.37,514.63 77.20,515.80 76.06,516.79 74.93,517.69 73.80,518.50 72.70,519.25 71.60,519.92 70.50,520.50 69.37,520.99 68.24,521.38 67.10,521.70 65.96,521.93 64.83,522.07 63.70,522.20 62.60,522.31 61.50,522.41 60.40,522.50 59.27,522.60 58.14,522.69 57.00,522.80 55.86,522.91 54.73,523.04 53.60,523.20 52.50,523.40 51.40,523.63 50.30,523.90 49.17,524.21 48.03,524.55 46.90,524.90 45.80,525.26 44.70,525.62 43.60,526.00 42.47,526.39 41.34,526.80 40.20,527.20 39.06,527.60 37.93,528.00 36.80,528.40 35.70,528.80 34.60,529.19 33.50,529.60 32.39,530.02 31.26,530.46 30.10,530.90 28.75,531.41 27.37,531.93 26.40,532.30" fill="#f6b0b2"/>
<polyline points="26.40,517.40 28.26,517.29 30.90,517.14 33.50,517.00 35.76,516.89 37.98,516.80 40.20,516.70 42.43,516.60 44.67,516.51 46.90,516.40 49.13,516.28 51.36,516.14 53.60,516.00 55.86,515.85 58.14,515.69 60.40,515.50 62.64,515.28 64.87,515.02 67.10,514.70 69.46,514.26 71.81,513.76 73.80,513.30 75.18,512.96 76.19,512.66 77.20,512.30 78.37,511.83 79.54,511.30 80.60,510.80 81.47,510.41 82.23,510.05 83.00,509.60 83.83,509.01 84.66,508.33 85.50,507.60 86.28,506.93 87.06,506.22 88.00,505.20 89.22,503.75 90.61,501.99 92.00,500.00 93.33,497.76 94.67,495.29 96.00,492.70 97.36,489.94 98.71,487.07 100.00,484.30 101.18,481.70 102.30,479.20 103.40,476.90 104.51,474.82 105.60,472.93 106.70,471.20 107.80,469.61 108.89,468.20 110.00,467.00 111.14,466.07 112.29,465.36 113.40,464.80 114.46,464.39 115.49,464.12 116.50,463.90 117.54,463.68 118.58,463.51 119.50,463.40 120.20,463.35 120.78,463.37 121.50,463.50 122.47,463.74 123.58,464.10 124.70,464.60 125.79,465.25 126.89,466.05 128.00,467.00 129.11,468.14 130.23,469.44 131.35,470.80 132.47,472.20 133.59,473.67 134.70,475.20 135.80,476.80 136.90,478.46 138.00,480.10 139.10,481.68 140.19,483.23 141.30,484.80 142.43,486.40 143.57,488.00 144.70,489.60 145.80,491.17 146.90,492.72 148.00,494.30 149.13,495.94 150.27,497.60 151.40,499.20 152.51,500.69 153.60,502.12 154.70,503.50 155.85,504.89 157.00,506.24 158.00,507.40 158.65,508.17 159.16,508.75 160.00,509.60 161.44,510.98 163.22,512.62 165.00,514.20 166.67,515.59 168.33,516.92 170.00,518.20 171.67,519.45 173.33,520.65 175.00,521.80 176.62,522.86 178.24,523.87 180.00,524.90 181.99,526.01 184.12,527.14 186.25,528.20 188.33,529.14 190.42,530.00 192.50,530.80 194.58,531.55 196.67,532.25 198.75,532.90 200.83,533.51 202.92,534.07 205.00,534.60 207.08,535.10 209.17,535.56 211.25,536.00 213.33,536.42 215.42,536.82 217.50,537.20 219.58,537.56 221.67,537.89 223.75,538.20 225.92,538.49 228.09,538.76 230.00,539.00 231.62,539.21 232.98,539.38 233.90,539.50" fill="none" stroke="#d4363c" stroke-width="1.15"/>
<path d="M26.3 509.5H239.5" stroke="#444" stroke-width="0.65" stroke-dasharray="1.5 1.9" fill="none"/>
<path d="M26 410.2V542.1H241.6" class="ax"/>
<path d="M23.2 542.10H26" class="ax"/>
<text transform="translate(21.80 544.20) scale(0.915 1)" text-anchor="end">0</text>
<path d="M23.2 509.10H26" class="ax"/>
<text transform="translate(21.80 511.20) scale(0.915 1)" text-anchor="end">1</text>
<path d="M23.2 476.10H26" class="ax"/>
<text transform="translate(21.80 478.20) scale(0.915 1)" text-anchor="end">2</text>
<path d="M23.2 443.10H26" class="ax"/>
<text transform="translate(21.80 445.20) scale(0.915 1)" text-anchor="end">3</text>
<path d="M23.2 410.10H26" class="ax"/>
<text transform="translate(21.80 412.20) scale(0.915 1)" text-anchor="end">4</text>
<path d="M25.5 542.1v3" class="ax"/>
<text transform="translate(25.50 552.10) scale(0.915 1)" text-anchor="middle">20</text>
<path d="M61.5 542.1v3" class="ax"/>
<text transform="translate(61.50 552.10) scale(0.915 1)" text-anchor="middle">30</text>
<path d="M97.5 542.1v3" class="ax"/>
<text transform="translate(97.50 552.10) scale(0.915 1)" text-anchor="middle">40</text>
<path d="M133.5 542.1v3" class="ax"/>
<text transform="translate(133.50 552.10) scale(0.915 1)" text-anchor="middle">50</text>
<path d="M169.5 542.1v3" class="ax"/>
<text transform="translate(169.50 552.10) scale(0.915 1)" text-anchor="middle">60</text>
<path d="M205.5 542.1v3" class="ax"/>
<text transform="translate(205.50 552.10) scale(0.915 1)" text-anchor="middle">70</text>
<path d="M241.5 542.1v3" class="ax"/>
<text transform="translate(241.50 552.10) scale(0.915 1)" text-anchor="middle">80</text>
<text transform="translate(9.0 477.4) rotate(-90) scale(0.915 1)" text-anchor="middle" y="2.1">OR (95% CI)</text>
<text transform="translate(134.00 406.60) scale(0.915 1)" text-anchor="middle" textLength="109.07" lengthAdjust="spacingAndGlyphs">Association between age and BV infection</text>
<text transform="translate(28.80 419.50) scale(0.915 1)" textLength="86.01" lengthAdjust="spacingAndGlyphs"><tspan class="i">P</tspan> for overall association: &lt;0.0001</text>
<text transform="translate(28.80 425.50) scale(0.915 1)"><tspan class="i">P</tspan> for nonlinear: &lt;0.0001</text>
<text transform="translate(133.30 560.70) scale(0.915 1)" text-anchor="middle">Age (years)</text>
</svg>
</body></html>
